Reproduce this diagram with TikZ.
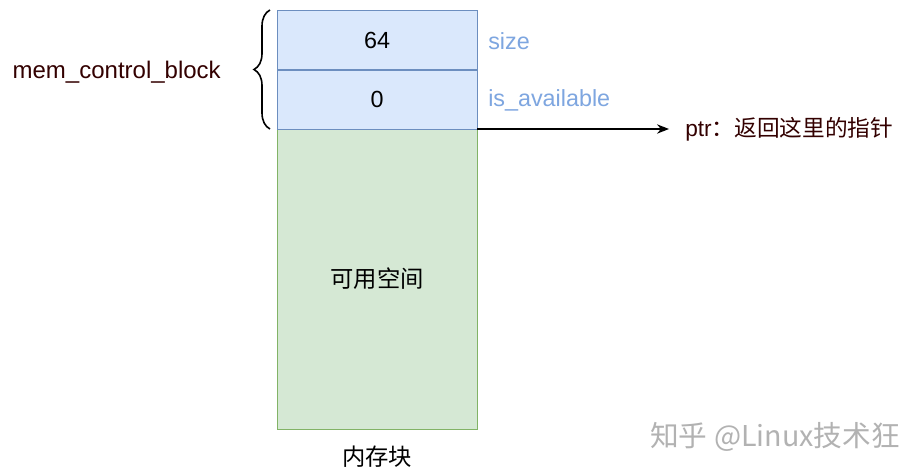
\documentclass[tikz,border=0pt]{standalone}
\usepackage{fontspec}
\setmainfont{Liberation Sans}
\newfontfamily\cjk{Noto Sans CJK SC}
\usetikzlibrary{arrows.meta,decorations.pathreplacing}
\definecolor{bfill}{HTML}{DAE8FC}\definecolor{bline}{HTML}{6C8EBF}
\definecolor{gfill}{HTML}{D5E8D4}\definecolor{gline}{HTML}{82B366}
\definecolor{lbl}{HTML}{330000}\definecolor{fld}{HTML}{7EA6E0}
\begin{document}
\begin{tikzpicture}[x=0.75pt,y=-0.75pt,
  cell/.style={draw=bline,fill=bfill,minimum width=150pt,minimum height=44.5pt,inner sep=0pt,font=\fontsize{17.5}{20}\selectfont},
  txt/.style={inner sep=0pt,font=\fontsize{17.5}{20}\selectfont}]
\useasboundingbox[fill=white] (0,0) rectangle (912,474);
\node[draw=gline,fill=gfill,minimum width=150pt,minimum height=225pt,inner sep=0pt] (mem) at (377,279) {};
\node[txt] at (mem.center) {\cjk 可用空间};
\node[cell] (size) at (377,40) {64};
\node[cell] (avail) at (377,99.5) {0};
\node[txt,text=fld,anchor=west] at (488,41) {size};
\node[txt,text=fld,anchor=west] at (488,100) {is\_available};
\coordinate (br1) at (270,10);\coordinate (br2) at (270,129);
\draw[line width=1.2pt,decorate,decoration={brace,amplitude=12pt}] (br2) -- (br1);
\node[txt,text=lbl,anchor=east,font=\fontsize{18}{20}\selectfont] (mcb) at (221,72) {mem\_control\_block};
\coordinate (ps) at (477,129);
\node[txt,anchor=west,text=lbl,font=\fontsize{17}{19}\selectfont] (ptr) at (685,129) {ptr{\cjk ：返回这里的指针}};
\draw[-{Stealth[length=9pt,width=7pt]},line width=0.9pt] (ps) -- ([xshift=-12pt]ptr.west);
\node[txt] (nk) at (377,457) {\cjk 内存块};
\node[txt,text=gray!60,anchor=west,font=\fontsize{21.5}{24}\selectfont] (wm) at (650,437) {\cjk 知乎 @Linux技术狂};
\end{tikzpicture}
\end{document}
